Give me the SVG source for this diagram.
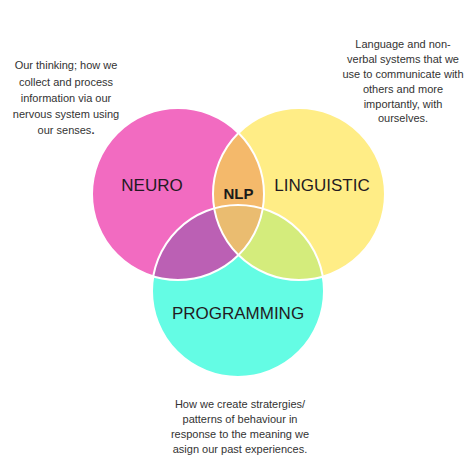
<svg xmlns="http://www.w3.org/2000/svg" width="474" height="474" viewBox="0 0 474 474">
  <style>
    .lbl { font-family: "Liberation Sans", Arial, sans-serif; font-size: 17px; fill: #231a22; text-anchor: middle; }
    .nlp { font-family: "Liberation Sans", Arial, sans-serif; font-size: 15px; font-weight: bold; fill: #1a1a1a; text-anchor: middle; }
    .desc { font-family: "Liberation Sans", Arial, sans-serif; font-size: 11px; fill: #333333; text-anchor: middle; }
    .edge { fill: none; stroke: #ffffff; stroke-width: 2; }
  </style>
  <defs>
    <clipPath id="cpPink"><circle cx="178" cy="194" r="86"/></clipPath>
    <clipPath id="cpYellow"><circle cx="299" cy="194" r="86"/></clipPath>
    <clipPath id="cpCyan"><circle cx="238" cy="291" r="86"/></clipPath>
  </defs>
  <rect width="474" height="474" fill="#ffffff"/>

  <g id="neuro">
    <circle cx="178" cy="194" r="86" fill="#F26BC1"/>
  </g>
  <g id="linguistic">
    <circle cx="299" cy="194" r="86" fill="#FFED86"/>
  </g>
  <g id="programming">
    <circle cx="238" cy="291" r="86" fill="#64FCE4"/>
  </g>
  <g id="overlaps">
    <circle cx="299" cy="194" r="86" fill="#F4B96B" clip-path="url(#cpPink)"/>
    <circle cx="238" cy="291" r="86" fill="#BB60B4" clip-path="url(#cpPink)"/>
    <circle cx="238" cy="291" r="86" fill="#D4EC7C" clip-path="url(#cpYellow)"/>
    <g clip-path="url(#cpYellow)">
      <circle cx="238" cy="291" r="86" fill="#EABC70" clip-path="url(#cpPink)"/>
    </g>
  </g>
  <g id="outlines">
    <circle class="edge" cx="178" cy="194" r="86"/>
    <circle class="edge" cx="299" cy="194" r="86"/>
    <circle class="edge" cx="238" cy="291" r="86"/>
  </g>

  <g id="labels">
    <text class="lbl" x="152" y="191">NEURO</text>
    <text class="lbl" x="322" y="191">LINGUISTIC</text>
    <text class="lbl" x="238" y="319">PROGRAMMING</text>
    <text class="nlp" x="238.5" y="199">NLP</text>
  </g>

  <g id="desc-neuro">
    <text class="desc" x="66" y="69">Our thinking; how we</text>
    <text class="desc" x="66" y="85.5">collect and process</text>
    <text class="desc" x="66" y="102">information via our</text>
    <text class="desc" x="66" y="118">nervous system using</text>
    <text class="desc" x="66" y="134">our senses<tspan font-weight="bold">.</tspan></text>
  </g>
  <g id="desc-linguistic">
    <text class="desc" x="403" y="47.5">Language and non-</text>
    <text class="desc" x="403" y="62.5">verbal systems that we</text>
    <text class="desc" x="403" y="77.5">use to communicate with</text>
    <text class="desc" x="403" y="92.5">others and more</text>
    <text class="desc" x="403" y="107.5">importantly, with</text>
    <text class="desc" x="403" y="122">ourselves.</text>
  </g>
  <g id="desc-programming">
    <text class="desc" x="240" y="408">How we create stratergies/</text>
    <text class="desc" x="240" y="423">patterns of behaviour in</text>
    <text class="desc" x="240" y="438">response to the meaning we</text>
    <text class="desc" x="240" y="453">asign our past experiences.</text>
  </g>
</svg>
